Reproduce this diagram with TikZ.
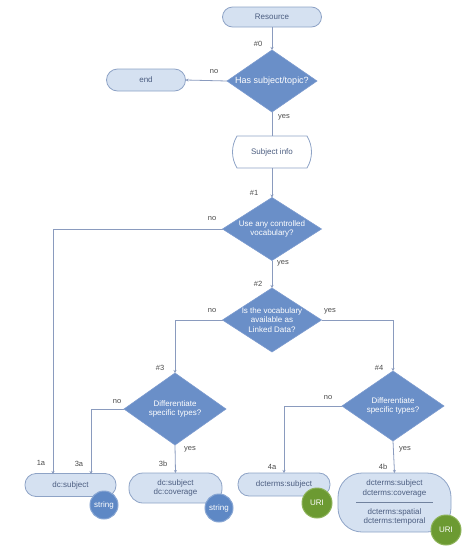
\documentclass[tikz,border=0pt]{standalone}
\usepackage{fontspec}
\setmainfont{Liberation Sans}
\usetikzlibrary{shapes.geometric,arrows.meta,calc}
\definecolor{boxfill}{HTML}{D5E1F1}
\definecolor{boxline}{HTML}{8EA3C6}
\definecolor{dfill}{HTML}{6A8FC8}
\definecolor{dline}{HTML}{7D9BCF}
\definecolor{cfill}{HTML}{5E88C5}
\definecolor{cline}{HTML}{88A6D3}
\definecolor{gfill}{HTML}{6C9A32}
\definecolor{gline}{HTML}{8DB35A}
\definecolor{wire}{HTML}{8A9BBE}
\definecolor{lbl}{HTML}{4A4A4A}
\definecolor{btext}{HTML}{4B5D80}
\begin{document}
\begin{tikzpicture}[x=1pt,y=-1pt,
  every node/.style={font=\fontsize{8}{9.6}\selectfont, inner sep=0pt, outer sep=0pt},
  rbox/.style={rectangle, draw=boxline, fill=boxfill, line width=0.8pt, text=btext, align=center},
  dia/.style={diamond, draw=dline, fill=dfill, line width=0.6pt},
  dtext/.style={text=white, align=center},
  circ/.style={circle, draw=cline, fill=cfill, line width=1pt, minimum size=28pt, text=white},
  gcirc/.style={circle, draw=gline, fill=gfill, line width=1pt, minimum size=30pt, text=white},
  tag/.style={text=lbl, font=\fontsize{7.5}{9}\selectfont},
  conn/.style={draw=wire, line width=0.8pt, -{Stealth[length=3pt,width=3pt]}},
  plain/.style={draw=wire, line width=0.8pt}
]
\useasboundingbox (0,0) rectangle (474,552);

% top
\node[rbox, rounded corners=10pt, minimum width=99pt, minimum height=20pt] (res) at (272,17) {Resource};
\node[dia, minimum width=90pt, minimum height=62pt, label={[dtext, font=\fontsize{9}{11}\selectfont]center:Has subject/topic?}] (d0) at (272,81) {};
\node[rbox, rounded corners=11pt, minimum width=79pt, minimum height=22pt] (end) at (146,80) {end};

% subject info
\draw[boxline, line width=0.8pt, fill=white]
  (237,136) -- (307,136) .. controls (313,146) and (313,158) .. (307,168)
  -- (237,168) .. controls (231,158) and (231,146) .. (237,136) -- cycle;
\node[text=btext, minimum width=76pt, minimum height=32pt] (info) at (272,152) {Subject info};

\node[dia, minimum width=99pt, minimum height=63pt, label={[dtext]center:Use any controlled\\vocabulary?}] (d1) at (272,229) {};
\node[dia, minimum width=99pt, minimum height=64pt, label={[dtext]center:Is the vocabulary\\available as\\Linked Data?}] (d2) at (272,320) {};
\node[dia, minimum width=102pt, minimum height=72pt, label={[dtext]center:Differentiate\\specific types?}] (d3) at (175,409) {};
\node[dia, minimum width=102pt, minimum height=70pt, label={[dtext]center:Differentiate\\specific types?}] (d4) at (393,406) {};

% result boxes
\node[rbox, rounded corners=11pt, minimum width=91pt, minimum height=23pt] (b1) at (70.5,485) {dc:subject};
\node[rbox, rounded corners=14pt, minimum width=93pt, minimum height=30pt] (b3) at (175.5,488) {dc:subject\\dc:coverage};
\node[rbox, rounded corners=11pt, minimum width=92pt, minimum height=23pt] (b4a) at (284,484.5) {dcterms:subject};
\node[rbox, rounded corners=24pt, minimum width=113pt, minimum height=59pt] (b4) at (394.5,502.5) {dcterms:subject\\dcterms:coverage\\[9.5pt]dcterms:spatial\\dcterms:temporal};
\draw[boxline!80!black, line width=0.5pt] ($(b4.west)+(18,0)$) -- ($(b4.east)+(-18,0)$);

\node[circ] (c1) at (104,505) {string};
\node[circ] (c3) at (219,508) {string};
\node[gcirc] (c4a) at (317,503) {URI};
\node[gcirc] (c4b) at (446,530) {URI};

\coordinate (t1a) at (53,474);
\coordinate (t3a) at (91,474);

% connectors
\draw[conn] (res.south) -- (d0.north);
\draw[conn] (d0.west) -- (end.east);
\draw[plain] (d0.south) -- (info.north);
\draw[conn] (info.south) -- (d1.north);
\draw[conn] (d1.west) -| (t1a);
\draw[conn] (d1.south) -- (d2.north);
\draw[conn] (d2.west) -| (d3.north);
\draw[conn] (d2.east) -| (d4.north);
\draw[conn] (d3.west) -| (t3a);
\draw[conn] (d3.south) -- (b3.north);
\draw[conn] (d4.west) -| (b4a.north);
\draw[conn] (d4.south) -- (b4.north);

% labels
\node[tag] (l0) at (258,44) {\#0};
\node[tag] (n0) at (214,72) {no};
\node[tag] (y0) at (284,117) {yes};
\node[tag] (l1) at (254,193) {\#1};
\node[tag] (n1) at (212,219) {no};
\node[tag] (y1) at (283,263) {yes};
\node[tag] (l2) at (258,284) {\#2};
\node[tag] (n2) at (212,311) {no};
\node[tag] (y2) at (330,311) {yes};
\node[tag] (l3) at (160,368) {\#3};
\node[tag] (l4) at (379,368) {\#4};
\node[tag] (n3) at (117,402) {no};
\node[tag] (y3) at (190,449) {yes};
\node[tag] (n4) at (328,398) {no};
\node[tag] (y4) at (405,449) {yes};
\node[tag] (a1) at (41,463) {1a};
\node[tag] (a3) at (79,464) {3a};
\node[tag] (a3b) at (163,464) {3b};
\node[tag] (a4a) at (272,467) {4a};
\node[tag] (a4b) at (383,467) {4b};
\end{tikzpicture}
\end{document}
